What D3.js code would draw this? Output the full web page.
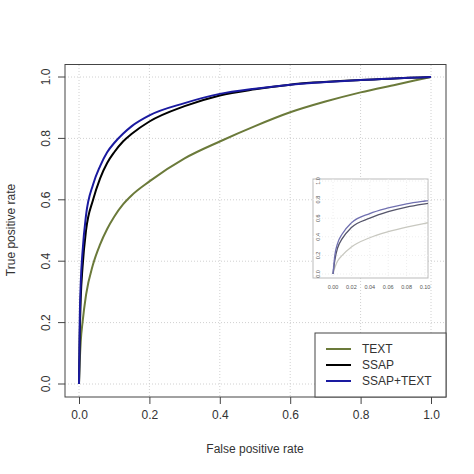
<!DOCTYPE html>
<meta charset="utf-8">
<head>
<script src="https://cdn.jsdelivr.net/npm/d3@7"></script>
<style>
  body { margin: 0; background: #fff; }
  text { font-family: "Liberation Sans", Arial, sans-serif; fill: #333; }
</style>
</head>
<body>
<script>
// ROC curves
var fprText = [0, 0.002, 0.005, 0.01, 0.02, 0.04, 0.06, 0.08, 0.1, 0.125, 0.15, 0.2, 0.3, 0.4, 0.5, 0.6, 0.7, 0.8, 0.9, 1];
var tprText = [0, 0.07, 0.14, 0.2, 0.29, 0.39, 0.455, 0.505, 0.545, 0.585, 0.615, 0.66, 0.735, 0.79, 0.84, 0.885, 0.92, 0.95, 0.975, 1];
var fprSsap = [0, 0.002, 0.005, 0.01, 0.02, 0.04, 0.06, 0.08, 0.1, 0.125, 0.15, 0.2, 0.3, 0.4, 0.5, 0.6, 0.8, 1];
var tprSsap = [0, 0.15, 0.28, 0.38, 0.5, 0.6, 0.67, 0.72, 0.755, 0.79, 0.815, 0.855, 0.905, 0.94, 0.96, 0.975, 0.99, 1];
var fprBoth = [0, 0.002, 0.005, 0.01, 0.02, 0.04, 0.06, 0.08, 0.1, 0.125, 0.15, 0.2, 0.3, 0.4, 0.5, 0.6, 0.8, 1];
var tprBoth = [0, 0.2, 0.33, 0.43, 0.55, 0.65, 0.71, 0.755, 0.785, 0.815, 0.84, 0.875, 0.915, 0.945, 0.962, 0.975, 0.99, 1];
var seriesNames = ["TEXT", "SSAP", "SSAP+TEXT"];
var seriesColors = ["#6b7a3a", "#000000", "#1a1aa0"];
var insetColors = ["#c8c8c0", "#55556a", "#7070b0"];
var mainTicks = [0, 0.2, 0.4, 0.6, 0.8, 1.0];
var insetXTicks = [0, 0.02, 0.04, 0.06, 0.08, 0.10];

var w = 474, h = 474;
var svg = d3.select("body").append("svg").attr("width", w).attr("height", h);

var series = [
  d3.zip(fprText, tprText),
  d3.zip(fprSsap, tprSsap),
  d3.zip(fprBoth, tprBoth)
];

// main plot
var x = d3.scaleLinear().domain([0, 1]).range([79, 431]);
var y = d3.scaleLinear().domain([0, 1]).range([384, 77]);

var grid = svg.append("g");
mainTicks.forEach(function(t) {
  grid.append("line").attr("x1", x(t)).attr("x2", x(t)).attr("y1", 65).attr("y2", 397);
  grid.append("line").attr("y1", y(t)).attr("y2", y(t)).attr("x1", 65).attr("x2", 446);
});
grid.selectAll("line").attr("stroke", "#d0d0d0").attr("stroke-dasharray", "1,2");

var line = d3.line().x(function(d) { return x(d[0]); }).y(function(d) { return y(d[1]); })
  .curve(d3.curveMonotoneX);
series.forEach(function(s, i) {
  svg.append("path").attr("d", line(s)).attr("fill", "none")
    .attr("stroke", seriesColors[i]).attr("stroke-width", 2);
});

svg.append("rect").attr("x", 65).attr("y", 64.5).attr("width", 381).attr("height", 332.5)
  .attr("fill", "none").attr("stroke", "#444");

var xAxis = svg.append("g").attr("transform", "translate(0,397)")
  .call(d3.axisBottom(x).tickValues(mainTicks).tickFormat(d3.format(".1f")).tickSize(7).tickPadding(6));
var yAxis = svg.append("g").attr("transform", "translate(65,0)")
  .call(d3.axisLeft(y).tickValues(mainTicks).tickFormat(d3.format(".1f")).tickSize(7).tickPadding(6));
[xAxis, yAxis].forEach(function(a) {
  a.select(".domain").remove();
  a.selectAll("line").attr("stroke", "#444");
  a.selectAll("text").style("font-size", "12px").style("fill", "#333");
});
yAxis.selectAll(".tick").attr("transform", null);
yAxis.selectAll(".tick line").attr("y1", y).attr("y2", y);
yAxis.selectAll("text").attr("text-anchor", "middle").attr("x", -19).attr("y", y).attr("dy", "0.35em")
  .attr("transform", function(d) { return "rotate(-90,-19," + y(d) + ")"; });

svg.append("text").attr("x", 255).attr("y", 453).attr("text-anchor", "middle")
  .style("font-size", "12px").text("False positive rate");
svg.append("text").attr("transform", "translate(15,230) rotate(-90)").attr("text-anchor", "middle")
  .style("font-size", "12px").text("True positive rate");

// legend
svg.append("rect").attr("x", 315).attr("y", 333).attr("width", 131).attr("height", 64)
  .attr("fill", "#fff").attr("stroke", "#444");
seriesNames.forEach(function(n, i) {
  var ly = 349 + i * 16;
  svg.append("line").attr("x1", 326).attr("x2", 351).attr("y1", ly).attr("y2", ly)
    .attr("stroke", seriesColors[i]).attr("stroke-width", 2);
  svg.append("text").attr("x", 362).attr("y", ly).attr("dy", "0.35em")
    .style("font-size", "12px").text(n);
});

// inset
var ix = d3.scaleLinear().domain([0, 0.1]).range([333, 425]);
var iy = d3.scaleLinear().domain([0, 1]).range([274, 181]);
svg.append("rect").attr("x", 313).attr("y", 179).attr("width", 115).attr("height", 99)
  .attr("fill", "#fff").attr("stroke", "#bbb");
var ig = svg.append("g");
insetXTicks.forEach(function(t) {
  ig.append("line").attr("x1", ix(t)).attr("x2", ix(t)).attr("y1", 179).attr("y2", 278);
});
mainTicks.forEach(function(t) {
  ig.append("line").attr("y1", iy(t)).attr("y2", iy(t)).attr("x1", 313).attr("x2", 428);
});
ig.selectAll("line").attr("stroke", "#eee").attr("stroke-dasharray", "1,2");
svg.append("clipPath").attr("id", "ic").append("rect")
  .attr("x", 313).attr("y", 179).attr("width", 115).attr("height", 99);
var iline = d3.line().x(function(d) { return ix(d[0]); }).y(function(d) { return iy(d[1]); })
  .curve(d3.curveMonotoneX);
series.forEach(function(s, i) {
  svg.append("path").attr("clip-path", "url(#ic)")
    .attr("d", iline(s.filter(function(d) { return d[0] <= 0.15; })))
    .attr("fill", "none").attr("stroke", insetColors[i]).attr("stroke-width", 1.3);
});
insetXTicks.forEach(function(t) {
  svg.append("text").attr("x", ix(t)).attr("y", 289).attr("text-anchor", "middle")
    .style("font-size", "5.5px").style("fill", "#555").text(d3.format(".2f")(t));
});
mainTicks.forEach(function(t) {
  svg.append("text").attr("transform", "translate(320," + iy(t) + ") rotate(-90)")
    .attr("text-anchor", "middle").style("font-size", "5.5px").style("fill", "#555")
    .text(d3.format(".1f")(t));
});
</script>
</body>
</html>
